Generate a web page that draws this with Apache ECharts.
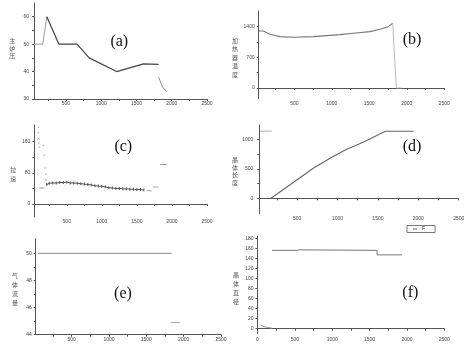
<!DOCTYPE html>
<html><head><meta charset="utf-8">
<script src="https://cdn.jsdelivr.net/npm/echarts@6/dist/echarts.min.js"></script>
<style>html,body{margin:0;padding:0;background:#fff}#c{width:474px;height:355px}</style>
</head><body><div id="c"></div>
<script>
// ---------- (a) 主炉压 ----------
const aStartX = [47, 171, 185, 229];
const aStartY = [50, 50, 50, 60];
const aMainX = [229, 400, 657, 829, 1219, 1600, 1814];
const aMainY = [60, 50, 50, 45, 40, 42.8, 42.6];
const aTailX = [1815, 1872, 1929];
const aTailY = [37.9, 34.3, 32.7];
// ---------- (b) 加热器温度 ----------
const bMainX = [27, 87, 176, 309, 487, 753, 1109, 1288, 1509, 1642, 1752, 1812];
const bMainY = [1294, 1294, 1220, 1167, 1152, 1167, 1212, 1243, 1281, 1334, 1394, 1470];
const bDropX = [1812, 1860, 1932];
const bDropY = [1470, 0, 0];
// ---------- (c) 拉速 ----------
const cFlatX = [108, 180];
const cFlatY = [41, 41];
const cFallX = [96, 98, 100, 102, 104, 165, 180, 190, 200, 205];
const cFallY = [196, 182, 168, 156, 145, 150, 125, 92, 76, 62];
const cBandX = [214, 250, 300, 350, 400, 450, 500, 550, 600, 650, 700, 750, 800, 850, 900, 950, 1000, 1050, 1100, 1150, 1200, 1250, 1300, 1350, 1400, 1450, 1500, 1550, 1600];
const cBandY = [50, 53, 54, 54, 55, 55, 56, 54, 54, 53, 52, 51, 50, 49, 47, 46, 45, 44, 42, 41, 40, 40, 39, 39, 38, 38, 37, 37, 36];
const cLow1X = [1640, 1690, 1712];
const cLow1Y = [35, 34, 33];
const cLow2X = [1726, 1806];
const cLow2Y = [43.5, 43.5];
const cHighX = [1830, 1926];
const cHighY = [101, 101];
// ---------- (d) 晶体长度 ----------
const dMainX = [177, 495, 700, 907, 1114, 1324, 1592, 1943];
const dMainY = [0, 312, 512, 683, 836, 960, 1143, 1143];
const dTopX = [41, 186];
const dTopY = [1145, 1145];
// ---------- (e) 气体流量 ----------
const eMainX = [54, 1840];
const eMainY = [50, 50];
const eTailX = [1826, 1951];
const eTailY = [44.9, 44.9];
// ---------- (f) 晶体直径 ----------
const fStartX = [47, 83, 105, 194];
const fStartY = [7, 4, 3, 1];
const fMainX = [194, 220, 260, 520, 540, 560, 1600, 1600, 1935];
const fMainY = [156, 154, 156, 156, 153, 157, 156, 147, 147];

// ---------- tick labels ----------
const xLabelsA = [500, 1000, 1500, 2000, 2500];
const xLabelsF = [0, 500, 1000, 1500, 2000, 2500];
const xTicks = [250, 500, 750, 1000, 1250, 1500, 1750, 2000, 2250, 2500];
const xTicksF = [0, 250, 500, 750, 1000, 1250, 1500, 1750, 2000, 2250, 2500];
const yLabelsA = [30, 40, 50, 60];
const yTicksA = [30, 35, 40, 45, 50, 55, 60];
const yLabelsB = [0, 700, 1400];
const yTicksB = [0, 350, 700, 1050, 1400];
const yLabelsC = [0, 80, 160];
const yTicksC = [0, 40, 80, 120, 160];
const yLabelsD = [0, 500, 1000];
const yTicksD = [0, 250, 500, 750, 1000];
const yLabelsE = [44, 46, 48, 50];
const yTicksE = [44, 45, 46, 47, 48, 49, 50];
const yLabelsF = [0, 20, 40, 60, 80, 100, 120, 140, 160, 180];

const yNames = ['主炉压', '加热器温度', '拉速', '晶体长度', '气体流量', '晶体直径'];
const panelTags = ['(a)', '(b)', '(c)', '(d)', '(e)', '(f)'];

const P = (xs, ys) => xs.map((x, i) => [x, ys[i]]);

const panels = [
  {g:[34, 3, 173, 96], x:[47, 2500], y:[30, 65], xl:xLabelsA, xt:xTicks, yl:yLabelsA, yt:yTicksA, ym:5, xm:2,
   name:[12.3, 48.3, 7.7], tag:[119.3, 41.7]},
  {g:[258.7, 11, 185.6, 87.7], x:[25, 2500], y:[-245, 1750], xl:xLabelsA, xt:xTicks, yl:yLabelsB, yt:yTicksB, ym:4, xm:2,
   name:[235, 57.5, 8.5], tag:[412, 40]},
  {g:[34.3, 125, 172.7, 92], x:[37, 2500], y:[-33, 202], xl:xLabelsA, xt:xTicks, yl:yLabelsC, yt:yTicksC, ym:4, xm:2,
   name:[13.3, 174.2, 9], tag:[123.3, 147]},
  {g:[259.3, 125, 199.4, 88.7], x:[32, 2500], y:[-263, 1250], xl:xLabelsA, xt:xTicks, yl:yLabelsD, yt:yTicksD, ym:6, xm:2,
   name:[235, 171.2, 7.4], tag:[412, 146.3]},
  {g:[35.7, 238.7, 185.3, 96], x:[19, 2500], y:[44, 51.08], xl:xLabelsA, xt:xTicks, yl:yLabelsE, yt:yTicksE, ym:4, xm:2,
   name:[15, 289, 9], tag:[123, 294]},
  {g:[257.5, 236, 186.8, 97.7], x:[0, 2500], y:[-10, 184.6], xl:xLabelsF, xt:xTicksF, yl:yLabelsF, yt:yLabelsF, ym:4, xm:3,
   name:[236, 288.5, 9], tag:[410.3, 292.7]}
];

const axisColor = '#555';
const labelStyle = {fontSize: 5, color: '#444', fontFamily: 'Liberation Sans'};

function line(i, data, color, width, extra) {
  return Object.assign({
    type: 'line', xAxisIndex: i, yAxisIndex: i, data: data, showSymbol: false,
    lineStyle: {color: color, width: width}, itemStyle: {color: color}, silent: true
  }, extra || {});
}

const series = [
  line(0, P(aStartX, aStartY), '#9a9a9a', 1),
  line(0, P(aMainX, aMainY), '#444', 1.2),
  line(0, P(aTailX, aTailY), '#8a8a8a', 1),
  line(1, P(bMainX, bMainY), '#777', 1.1),
  line(1, P(bDropX, bDropY), '#bbb', 1),
  line(2, P(cFlatX, cFlatY), '#999', 1),
  {type: 'scatter', xAxisIndex: 2, yAxisIndex: 2, data: P(cFallX, cFallY), symbol: 'rect', symbolSize: 1.5,
   itemStyle: {color: '#aaa'}, silent: true},
  line(2, P(cBandX, cBandY), '#555', 1, {showSymbol: true, symbol: 'rect', symbolSize: [1, 3]}),
  line(2, P(cLow1X, cLow1Y), '#aaa', 1),
  line(2, P(cLow2X, cLow2Y), '#aaa', 1),
  line(2, P(cHighX, cHighY), '#999', 1),
  line(3, P(dMainX, dMainY), '#666', 1.1, {name: 'F'}),
  line(3, P(dTopX, dTopY), '#aaa', 1),
  line(4, P(eMainX, eMainY), '#888', 1),
  line(4, P(eTailX, eTailY), '#aaa', 1),
  line(5, P(fStartX, fStartY), '#999', 1),
  line(5, P(fMainX, fMainY), '#777', 1)
];

const graphics = [];
panels.forEach((p, i) => {
  const chars = yNames[i].split('');
  const n = chars.length;
  chars.forEach((ch, k) => {
    graphics.push({type: 'text', x: p.name[0], y: p.name[1] + (k - (n - 1) / 2) * p.name[2],
      style: {text: ch, fill: '#555', font: '6px "Noto Sans CJK SC"', align: 'center', verticalAlign: 'middle'}, silent: true});
  });
  graphics.push({type: 'text', x: p.tag[0], y: p.tag[1],
    style: {text: panelTags[i], fill: '#111', font: '16px "Liberation Serif"', align: 'center', verticalAlign: 'middle'}, silent: true});
});

const option = {
  animation: false,
  backgroundColor: '#fff',
  grid: panels.map(p => ({left: p.g[0], top: p.g[1], width: p.g[2], height: p.g[3], containLabel: false, outerBoundsMode: 'none'})),
  xAxis: panels.map((p, i) => ({
    type: 'value', gridIndex: i, min: p.x[0], max: p.x[1],
    axisLine: {show: true, lineStyle: {color: axisColor, width: 1}},
    axisTick: {show: true, length: 2, customValues: p.xt, lineStyle: {color: axisColor, width: 1}},
    axisLabel: Object.assign({customValues: p.xl, formatter: v => String(v), margin: p.xm, showMinLabel: true, showMaxLabel: true}, labelStyle),
    splitLine: {show: false}
  })),
  yAxis: panels.map((p, i) => ({
    type: 'value', gridIndex: i, min: p.y[0], max: p.y[1],
    axisLine: {show: true, lineStyle: {color: axisColor, width: 1}},
    axisTick: {show: true, length: 2, customValues: p.yt, lineStyle: {color: axisColor, width: 1}},
    axisLabel: Object.assign({customValues: p.yl, formatter: v => String(v), margin: p.ym, showMinLabel: true, showMaxLabel: true}, labelStyle),
    splitLine: {show: false}
  })),
  legend: {
    data: ['F'], left: 407, top: 225.5, orient: 'horizontal',
    icon: 'rect', itemWidth: 4, itemHeight: 1,
    borderColor: '#777', borderWidth: 1, padding: [1, 10, 1, 6],
    textStyle: {fontSize: 5, color: '#333', fontFamily: 'Liberation Sans'},
    selectedMode: false
  },
  series: series,
  graphic: graphics
};

const chart = echarts.init(document.getElementById('c'), null, {renderer: 'canvas'});
chart.setOption(option);
</script>
</body></html>
